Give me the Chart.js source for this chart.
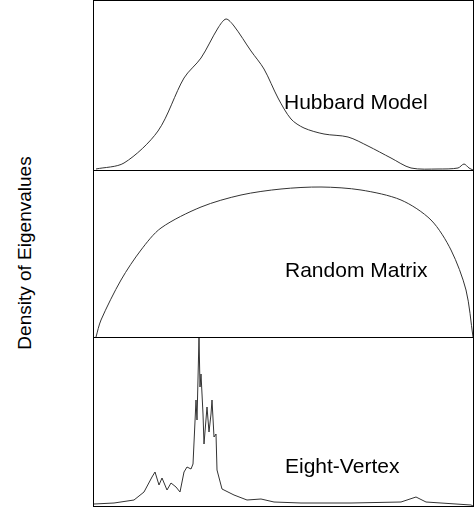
<!DOCTYPE html>
<html><head><meta charset="utf-8">
<script src="https://cdn.jsdelivr.net/npm/chart.js@4/dist/chart.umd.min.js"></script>
<style>
body{margin:0;background:#fff;width:474px;height:507px;position:relative;overflow:hidden;font-family:"Liberation Sans",Arial,sans-serif}
.panel{position:absolute;left:93px;width:379px;border:1px solid #000;box-sizing:content-box}
.lbl{position:absolute;font-size:21px;line-height:24px;color:#000;white-space:nowrap}
#ylab{position:absolute;left:25px;top:253px;transform:translate(-50%,-50%) rotate(-90deg);font-size:19px;white-space:nowrap}
</style></head><body>
<div id="ylab">Density of Eigenvalues</div>
<div class="panel" style="top:0;height:169px"><canvas id="c1"></canvas></div>
<div class="panel" style="top:170px;height:166px"><canvas id="c2"></canvas></div>
<div class="panel" style="top:337px;height:168px"><canvas id="c3"></canvas></div>
<div class="lbl" style="left:284px;top:90px">Hubbard Model</div>
<div class="lbl" style="left:285px;top:258px">Random Matrix</div>
<div class="lbl" style="left:285px;top:454px">Eight-Vertex</div>
<script>
// x positions and heights (arbitrary units)
const hubbardX = [2,30,64,90,107,124,132,140,157,170,184,197,210,230,254,274,297,317,344,364,370,375,379];
const hubbardY = [1,7,39,92,112,142,151,144,119,101,72,51,42,36,33,24,12,2,1,2,6,2,0];
const randomX = [2,7,27,47,67,107,147,187,227,267,307,337,357,372,379];
const randomY = [0,17,57,87,109,130,142,148,150,147,137,117,87,47,0];
const eightX = [0,20,40,50,58,61,65,68,73,77,82,86,90,93,97,99,102,103,105,106,107,109,110,113,115,117,118,120,122,123,128,140,153,167,180,207,257,307,322,332,377,379];
const eightY = [2,3,6,14,29,34,21,28,16,23,19,14,34,39,37,42,106,86,169,119,132,92,62,99,74,92,106,69,72,36,17,11,6,7,4,3,3,4,9,4,1,0];

function panel(id, xs, ys, ymax, tension) {
    new Chart(document.getElementById(id), {
        type: 'line',
        data: {
            datasets: [{
                data: xs.map((x, i) => ({x: x, y: ys[i]})),
                borderColor: '#333',
                borderWidth: 1,
                pointRadius: 0,
                tension: tension,
                fill: false
            }]
        },
        options: {
            responsive: true,
            maintainAspectRatio: false,
            animation: false,
            layout: {padding: 0},
            plugins: {legend: {display: false}, tooltip: {enabled: false}},
            scales: {
                x: {type: 'linear', min: 0, max: 379, display: false},
                y: {min: 0, max: ymax, display: false}
            }
        }
    });
}
panel('c1', hubbardX, hubbardY, 169, 0.3);
panel('c2', randomX, randomY, 166, 0.3);
panel('c3', eightX, eightY, 168, 0);
</script>
</body></html>
